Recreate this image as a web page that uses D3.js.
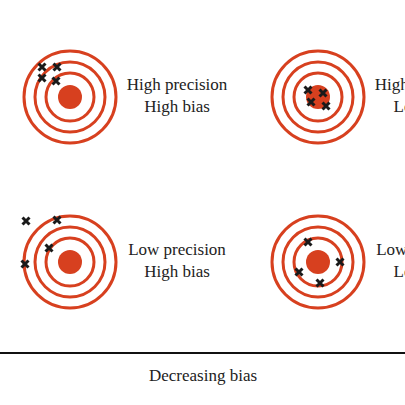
<!DOCTYPE html>
<html><head><meta charset="utf-8">
<script src="https://cdn.jsdelivr.net/npm/d3@7"></script>
<style>body{margin:0;background:#fff}</style>
</head><body>
<svg id="chart" width="405" height="405"></svg>
<script>
// targets: [column, row]
const targets = [
  {col: 0, row: 0, lines: ["High precision", "High bias"]},
  {col: 1, row: 0, lines: ["High precision", "Low bias"]},
  {col: 0, row: 1, lines: ["Low precision", "High bias"]},
  {col: 1, row: 1, lines: ["Low precision", "Low bias"]}
]
// hit offsets from target centre, in target units
const hits = [
  [[-28, -30], [-13, -30], [-28, -19], [-14, -16]],
  [[-10, -7], [5, -4], [-7, 5], [8, 9]],
  [[-44, -41], [-13, -42], [-21, -14], [-45, 2]],
  [[-10, -20], [22, 0], [-19, 10], [2, 21]]
]
const ringRadii = [46, 35, 24]
const bullRadius = 12
const axisLabel = "Decreasing bias"

const red = "#d7401f"
const svg = d3.select("#chart")
const cx = d3.scaleLinear().domain([0, 1]).range([70, 318])
const cy = d3.scaleLinear().domain([0, 1]).range([97, 262])

targets.forEach((t, i) => {
  const g = svg.append("g").attr("transform", `translate(${cx(t.col)},${cy(t.row)})`)
  g.selectAll("circle.ring").data(ringRadii).join("circle")
    .attr("class", "ring").attr("r", d => d)
    .attr("fill", "none").attr("stroke", red).attr("stroke-width", 3)
  g.append("circle").attr("r", bullRadius).attr("fill", red)
  g.selectAll("path.hit").data(hits[i]).join("path")
    .attr("class", "hit")
    .attr("d", d => `M${d[0]-3.5},${d[1]-3.5}L${d[0]+3.5},${d[1]+3.5}M${d[0]+3.5},${d[1]-3.5}L${d[0]-3.5},${d[1]+3.5}`)
    .attr("stroke", "#1a1a1a").attr("stroke-width", 3)
  g.append("text")
    .attr("x", 107).attr("text-anchor", "middle")
    .attr("font-family", "Liberation Serif, serif").attr("font-size", 17).attr("fill", "#222")
    .selectAll("tspan").data(t.lines).join("tspan")
    .attr("x", 107).attr("y", (d, j) => -7 + j * 22).text(d => d)
})

svg.append("line").attr("x1", 0).attr("x2", 405).attr("y1", 353).attr("y2", 353)
  .attr("stroke", "#111").attr("stroke-width", 2)
svg.append("text").attr("x", 203).attr("y", 381).attr("text-anchor", "middle")
  .attr("font-family", "Liberation Serif, serif").attr("font-size", 17).attr("fill", "#222")
  .text(axisLabel)
</script>
</body></html>
